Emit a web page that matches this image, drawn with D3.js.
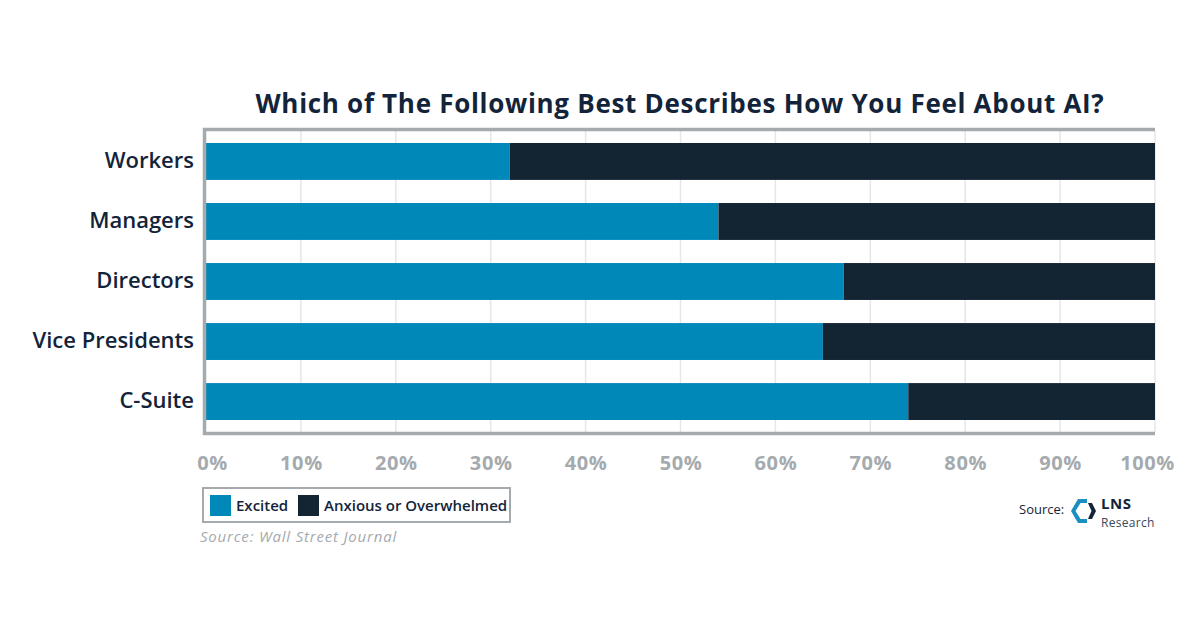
<!DOCTYPE html>
<html>
<head>
<meta charset="utf-8">
<script src="https://cdn.jsdelivr.net/npm/d3@7.9.0/dist/d3.min.js"></script>
<style>
  body { margin: 0; background: #fff; }
  svg { display: block; font-family: "Open Sans", "DejaVu Sans", sans-serif; }
</style>
</head>
<body>
<svg width="1201" height="631"></svg>
<script>
// chart data
const categories = ["Workers", "Managers", "Directors", "Vice Presidents", "C-Suite"];
const excited = [32, 54, 67.2, 65, 74];
const anxious = [68, 46, 32.8, 35, 26];
const seriesNames = ["Excited", "Anxious or Overwhelmed"];
const xTicks = [0, 10, 20, 30, 40, 50, 60, 70, 80, 90, 100];

const colors = ["#0088b9", "#132433"];
const navy = "#13243a";
const gray = "#a5aaae";

let svg = d3.select("svg");

let margin = { left: 206, right: 46, top: 131, bottom: 199 };
let w = 1201 - margin.left - margin.right;
let h = 631 - margin.top - margin.bottom;

let x = d3.scaleLinear().domain([0, 100]).range([0, w]);
let y = d3.scaleBand().domain(categories).range([0, h]).paddingInner(0.385).paddingOuter(0.2);

let g = svg.append("g").attr("transform", `translate(${margin.left},${margin.top})`);

// gridlines
g.selectAll("line.grid")
    .data(xTicks.slice(1))
    .enter()
    .append("line")
    .attr("x1", d => x(d)).attr("x2", d => x(d))
    .attr("y1", 0).attr("y2", h)
    .attr("stroke", "#e4e6e8")
    .attr("stroke-width", 1.5);

// stacked bars
let stackData = categories.map((c, i) => ({ cat: c, Excited: excited[i], "Anxious or Overwhelmed": anxious[i] }));
let stacked = d3.stack().keys(seriesNames)(stackData);

g.selectAll("g.series")
    .data(stacked)
    .enter()
    .append("g")
    .attr("fill", (d, i) => colors[i])
    .selectAll("rect")
    .data(d => d)
    .enter()
    .append("rect")
    .attr("x", d => x(d[0]))
    .attr("width", d => x(d[1]) - x(d[0]))
    .attr("y", d => y(d.data.cat))
    .attr("height", y.bandwidth());

// frame: left, top, bottom
g.append("path")
    .attr("d", `M${w},-1.5 H-1.5 V${h + 1.5} H${w}`)
    .attr("fill", "none")
    .attr("stroke", gray)
    .attr("stroke-width", 3.5);

// category labels
g.selectAll("text.cat")
    .data(categories)
    .enter()
    .append("text")
    .attr("x", -12)
    .attr("y", d => y(d) + y.bandwidth() / 2)
    .attr("dy", "0.28em")
    .attr("text-anchor", "end")
    .attr("fill", navy)
    .attr("font-size", 22)
    .attr("font-weight", 600)
    .text(d => d);

// x axis labels
let xAxis = d3.axisBottom(x).tickValues(xTicks).tickFormat(d => d + "%").tickSize(0).tickPadding(0);
let ax = g.append("g").attr("transform", `translate(0,${h + 38})`).call(xAxis);
ax.select(".domain").remove();
ax.selectAll("text")
    .attr("fill", gray)
    .attr("font-size", 20)
    .attr("font-weight", 700)
    .attr("letter-spacing", 0.6)
    .attr("font-family", "\"Open Sans\", sans-serif")
    .attr("dy", 0)
    .attr("dx", (d, i) => i === 0 ? 6 : (i === xTicks.length - 1 ? -8 : 0));

// title
svg.append("text")
    .attr("x", 680)
    .attr("y", 113)
    .attr("text-anchor", "middle")
    .attr("fill", navy)
    .attr("font-size", 26)
    .attr("font-weight", 700)
    .attr("letter-spacing", 0.7)
    .text("Which of The Following Best Describes How You Feel About AI?");

// legend
let lg = svg.append("g").attr("transform", "translate(203,488)");
lg.append("rect")
    .attr("x", 0).attr("y", 0).attr("width", 307).attr("height", 34)
    .attr("fill", "#fff").attr("stroke", gray).attr("stroke-width", 2);
let legendX = [7, 95];
let items = lg.selectAll("g.item")
    .data(seriesNames)
    .enter()
    .append("g")
    .attr("transform", (d, i) => `translate(${legendX[i]},7)`);
items.append("rect")
    .attr("width", 21).attr("height", 21)
    .attr("fill", (d, i) => colors[i]);
items.append("text")
    .attr("x", 26).attr("y", 16)
    .attr("fill", navy)
    .attr("font-size", 15)
    .attr("font-weight", 600)
    .text(d => d);

// source note
svg.append("text")
    .attr("x", 200).attr("y", 542)
    .attr("fill", gray)
    .attr("font-size", 15)
    .attr("font-style", "italic")
    .attr("letter-spacing", 0.8)
    .text("Source: Wall Street Journal");

// LNS logo block
let logo = svg.append("g").attr("transform", "translate(1019,0)");
logo.append("text")
    .attr("x", 0).attr("y", 514)
    .attr("fill", navy)
    .attr("font-size", 13)
    .text("Source:");
logo.append("path")
    .attr("d", "M68,499 L59,499 L52,511 L59,523 L68,523 L68,519 L61.5,519 L56.5,511 L61.5,503 L68,503 Z")
    .attr("fill", "#1a8fc0");
logo.append("path")
    .attr("d", "M69,503 L73,503 L77,511 L73,519 L69,519 L72.5,511 Z")
    .attr("fill", navy);
logo.append("text")
    .attr("x", 82).attr("y", 509)
    .attr("fill", navy)
    .attr("font-size", 15)
    .attr("font-weight", 700)
    .attr("letter-spacing", 0.5)
    .text("LNS");
logo.append("text")
    .attr("x", 82).attr("y", 526.5)
    .attr("fill", "#3a4a5a")
    .attr("font-size", 12)
    .attr("letter-spacing", 0.3)
    .text("Research");
</script>
</body>
</html>
